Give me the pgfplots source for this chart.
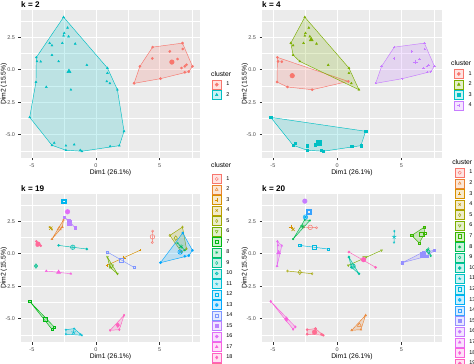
\documentclass[border=0pt]{standalone}
\usepackage{fontspec}
\setmainfont{Liberation Sans}
\usepackage{pgfplots}
\pgfplotsset{compat=1.18}
\definecolor{ggbg}{HTML}{EBEBEB}
\definecolor{gg20}{HTML}{333333}
\definecolor{gg30}{HTML}{4D4D4D}
\definecolor{ka1}{HTML}{F8766D}\definecolor{ka2}{HTML}{00BFC4}
\definecolor{kb1}{HTML}{F8766D}\definecolor{kb2}{HTML}{7CAE00}\definecolor{kb3}{HTML}{00BFC4}\definecolor{kb4}{HTML}{C77CFF}
\definecolor{kc1}{HTML}{F8766D}\definecolor{kc2}{HTML}{E9842C}\definecolor{kc3}{HTML}{D69100}\definecolor{kc4}{HTML}{BC9D00}
\definecolor{kc5}{HTML}{9CA700}\definecolor{kc6}{HTML}{6FB000}\definecolor{kc7}{HTML}{00B813}\definecolor{kc8}{HTML}{00BD61}
\definecolor{kc9}{HTML}{00C08E}\definecolor{kc10}{HTML}{00C0B4}\definecolor{kc11}{HTML}{00BDD4}\definecolor{kc12}{HTML}{00B5EE}
\definecolor{kc13}{HTML}{00A7FF}\definecolor{kc14}{HTML}{7F96FF}\definecolor{kc15}{HTML}{BC81FF}\definecolor{kc16}{HTML}{E26EF7}
\definecolor{kc17}{HTML}{F863DF}\definecolor{kc18}{HTML}{FF62BF}\definecolor{kc19}{HTML}{FF6A9A}
\definecolor{kd1}{HTML}{F8766D}\definecolor{kd2}{HTML}{EA8331}\definecolor{kd3}{HTML}{D89000}\definecolor{kd4}{HTML}{C09B00}
\definecolor{kd5}{HTML}{A3A500}\definecolor{kd6}{HTML}{7CAE00}\definecolor{kd7}{HTML}{39B600}\definecolor{kd8}{HTML}{00BB4E}
\definecolor{kd9}{HTML}{00BF7D}\definecolor{kd10}{HTML}{00C1A3}\definecolor{kd11}{HTML}{00BFC4}\definecolor{kd12}{HTML}{00BAE0}
\definecolor{kd13}{HTML}{00B0F6}\definecolor{kd14}{HTML}{35A2FF}\definecolor{kd15}{HTML}{9590FF}\definecolor{kd16}{HTML}{C77CFF}
\definecolor{kd17}{HTML}{E76BF3}\definecolor{kd18}{HTML}{FA62DB}\definecolor{kd19}{HTML}{FF62BC}\definecolor{kd20}{HTML}{FF6C91}

\pgfplotsset{
  legend image code/.code={%
    \draw[#1, mark=none, line width=0.45bp, fill, fill opacity=0.2] (0bp,-4.5bp) rectangle (9bp,4.5bp);
    \draw[#1, line width=0.45bp] plot coordinates {(4.5bp,0bp)};
  },
  gg/.style={
    scale only axis, anchor=south west,
    xmin=-5.85, xmax=8.15, ymin=-6.8, ymax=4.6,
    axis background/.style={fill=ggbg},
    axis line style={draw=none},
    xtick={-5,0,5}, ytick={-5,-2.5,0,2.5},
    minor xtick={-2.5,2.5,7.5}, minor ytick={-6.25,-3.75,-1.25,1.25,3.75},
    grid=both,
    major grid style={white, line width=0.6bp},
    minor grid style={white, line width=0.3bp},
    tick align=outside, xtick pos=left, ytick pos=left,
    major tick length=2.5bp, minor tick length=0pt,
    tick style={gg20, line width=0.5bp},
    ticklabel style={font=\fontsize{5.5}{6}\selectfont, text=gg30},
    yticklabel style={/pgf/number format/fixed, /pgf/number format/fixed zerofill, /pgf/number format/precision=1},
    /pgf/number format/assume math mode=true,
    clip=false,
    legend cell align=left,
    legend style={draw=none, fill=none, inner sep=0pt, outer sep=0pt, row sep=1.05bp, column sep=5bp,
      font=\fontsize{5.5}{6}\selectfont, anchor=west, nodes={inner sep=0pt}},
  },
}
\newcommand{\clhull}[2]{\addplot[forget plot, draw=#1, fill=#1, fill opacity=0.2, line width=0.45bp, mark=none] coordinates {#2} -- cycle;}
\newcommand{\clpts}[3]{\addplot[forget plot, only marks, color=#1, mark=#2, mark size=1.15pt, line width=0.4bp] coordinates {#3};}
\newcommand{\clcen}[3]{\addplot[forget plot, only marks, color=#1, mark=#2, mark size=2.3pt, line width=0.5bp] coordinates {#3};}
\newcommand{\leg}[3]{\addlegendimage{color=#1, mark=#2, mark size=1.6pt}\addlegendentry{#3}}
\newcommand{\decor}[3]{%
  \node[anchor=base west, inner sep=0pt, font=\fontsize{8.2}{9}\selectfont\bfseries] at (rel axis cs:0,1.02) {#1};
  \node[inner sep=0pt, font=\fontsize{6.8}{7}\selectfont] at (rel axis cs:0.5,-0.103) {Dim1 (26.1\%)};
  \node[inner sep=0pt, rotate=90, font=\fontsize{6.8}{7}\selectfont] at (rel axis cs:-0.095,0.5) {Dim2 (15.5\%)};
  \node[anchor=west, inner sep=0pt, font=\fontsize{6.8}{7}\selectfont] at (rel axis cs:#2,#3) {cluster};
}

\begin{document}
\begin{tikzpicture}
\useasboundingbox (0bp,0bp) rectangle (474bp,364bp);
\clip (0bp,0bp) rectangle (474bp,364bp);

% ---------------- k = 2
\begin{axis}[gg, at={(21bp,206bp)}, width=179bp, height=148bp,
  legend style={at={(1.067,0.461)}, row sep=0.85bp}]
\leg{ka1}{*}{1}
\leg{ka2}{triangle*}{2}
\clhull{ka2}{(-2.52,4.05) (0.91,0.13) (1.69,-1.54) (2.21,-4.74) (1.84,-5.85) (-1.09,-6.28) (-2.34,-6.2) (-3.43,-5.82) (-5.17,-3.67) (-4.68,-0.95) (-4.65,0.95)}
\clhull{ka1}{(6.78,2.05) (7.56,0.26) (7.27,-0.15) (5.06,-0.69) (2.99,-1.05) (3.45,0.26) (4.44,1.74)}
\clpts{ka2}{triangle*}{(-2.52,4.05) (-2.21,3.23) (-2.47,2.82) (-2.52,2.62) (-2.13,2.56) (-3.61,2.05) (-3.43,1.87) (-2.62,2.05) (-1.61,2.0) (-4.65,0.95) (-4.6,0.64) (-4.31,0.62) (-3.43,1.13) (-2.91,0.64) (-0.70,0.36) (0.91,0.13) (0.91,-0.26) (0.86,-0.9) (1.1,-1.05) (1.69,-1.54) (-4.68,-0.95) (-3.87,-1.33) (-1.95,-1.54) (-5.17,-3.67) (2.21,-4.74) (1.84,-5.85) (1.12,-5.9) (-1.69,-5.77) (-2.34,-5.85) (-3.25,-5.64) (-3.43,-5.82) (-1.22,-6.2) (-1.09,-6.28) (-2.34,-6.2)}
\clpts{ka1}{*}{(4.44,1.74) (5.79,1.41) (6.78,2.05) (6.8,1.6) (4.42,0.87) (6.39,0.82) (7.09,0.38) (3.45,0.26) (7.56,0.26) (6.7,0.13) (6.96,0.26) (6.96,-0.2) (7.27,-0.15) (2.99,-1.05) (5.06,-0.69)}
\clcen{ka1}{*}{(5.95,0.59)}
\clcen{ka2}{triangle*}{(-2.1,-0.13)}
\decor{k = 2}{1.061}{0.568}
\end{axis}

% ---------------- k = 4
\begin{axis}[gg, at={(262bp,206bp)}, width=180bp, height=148bp,
  legend style={at={(1.067,0.461)}, row sep=1.1bp}]
\leg{kb1}{*}{1}
\leg{kb2}{triangle*}{2}
\leg{kb3}{square*}{3}
\leg{kb4}{+}{4}
\clhull{kb1}{(-4.65,0.95) (0.86,-0.9) (-1.95,-1.54) (-3.87,-1.33) (-4.68,-0.95)}
\clhull{kb2}{(-2.52,4.05) (0.91,0.13) (1.69,-1.54) (-2.91,0.64) (-3.43,1.13) (-3.61,2.05)}
\clhull{kb3}{(-5.17,-3.67) (2.21,-4.74) (1.84,-5.85) (-1.09,-6.28) (-2.34,-6.2) (-3.43,-5.82)}
\clhull{kb4}{(6.78,2.05) (7.56,0.26) (7.27,-0.15) (5.06,-0.69) (2.99,-1.05) (3.45,0.26) (4.44,1.74)}
\clpts{kb1}{*}{(-4.65,0.95) (-4.6,0.64) (-4.31,0.62) (-4.68,-0.95) (-3.87,-1.33) (-1.95,-1.54) (0.86,-0.9)}
\clpts{kb2}{triangle*}{(-2.52,4.05) (-2.21,3.23) (-2.47,2.82) (-2.52,2.62) (-2.13,2.56) (-3.61,2.05) (-3.43,1.87) (-2.62,2.05) (-1.61,2.0) (-3.43,1.13) (-2.91,0.64) (-0.70,0.36) (0.91,0.13) (0.91,-0.26) (1.1,-1.05) (1.69,-1.54)}
\clpts{kb3}{square*}{(-5.17,-3.67) (2.21,-4.74) (1.84,-5.85) (1.12,-5.9) (-1.69,-5.77) (-2.34,-5.85) (-3.25,-5.64) (-3.43,-5.82) (-1.22,-6.2) (-1.09,-6.28) (-2.34,-6.2)}
\clpts{kb4}{+}{(4.44,1.74) (5.79,1.41) (6.78,2.05) (6.8,1.6) (4.42,0.87) (6.39,0.82) (7.09,0.38) (3.45,0.26) (7.56,0.26) (6.7,0.13) (6.96,0.26) (6.96,-0.2) (7.27,-0.15) (2.99,-1.05) (5.06,-0.69)}
\clcen{kb1}{*}{(-3.5,-0.46)}
\clcen{kb2}{triangle*}{(-2.02,2.31)}
\clcen{kb3}{square*}{(-1.42,-5.64)}
\clcen{kb4}{+}{(6.07,0.59)}
\decor{k = 4}{1.05}{0.644}
\end{axis}

% ---------------- k = 19
\begin{axis}[gg, at={(21bp,22bp)}, width=179bp, height=148bp,
  legend style={at={(1.067,0.463)}, row sep=1.05bp}]
\leg{kc1}{o}{1}
\leg{kc2}{triangle}{2}
\leg{kc3}{+}{3}
\leg{kc4}{x}{4}
\leg{kc5}{diamond}{5}
\leg{kc6}{triangle, mark options={rotate=180}}{6}
\leg{kc7}{square}{7}
\leg{kc8}{asterisk}{8}
\leg{kc9}{diamond}{9}
\leg{kc10}{oplus}{10}
\leg{kc11}{star}{11}
\leg{kc12}{square}{12}
\leg{kc13}{otimes}{13}
\leg{kc14}{square}{14}
\leg{kc15}{square*}{15}
\leg{kc16}{*}{16}
\leg{kc17}{triangle*}{17}
\leg{kc18}{diamond*}{18}
\leg{kc19}{*}{19}
\clhull{kc1}{(4.44,1.74) (4.42,0.87)}
\clpts{kc1}{o}{(4.44,1.74) (4.42,0.87)}
\clcen{kc1}{o}{(4.43,1.3)}
\clhull{kc2}{(-2.52,2.62) (-2.62,2.05) (-3.43,1.13)}
\clpts{kc2}{triangle}{(-2.52,2.62) (-2.62,2.05) (-3.43,1.13)}
\clcen{kc2}{triangle}{(-2.86,1.93)}
\clhull{kc3}{(0.86,-0.9) (3.45,0.26)}
\clpts{kc3}{+}{(0.86,-0.9) (3.45,0.26)}
\clcen{kc3}{+}{(2.15,-0.32)}
\clhull{kc4}{(-3.61,2.05) (-3.43,1.87)}
\clpts{kc4}{x}{(-3.61,2.05) (-3.43,1.87)}
\clcen{kc4}{x}{(-3.52,1.96)}
\clhull{kc5}{(5.79,1.41) (6.78,2.05) (7.09,0.38) (6.7,0.13)}
\clpts{kc5}{diamond}{(5.79,1.41) (6.78,2.05) (7.09,0.38) (6.7,0.13)}
\clcen{kc5}{diamond}{(6.25,1.2)}
\clhull{kc6}{(0.91,-0.26) (1.1,-1.05) (1.69,-1.54)}
\clpts{kc6}{triangle, mark options={rotate=180}}{(0.91,-0.26) (1.1,-1.05) (1.69,-1.54)}
\clcen{kc6}{triangle, mark options={rotate=180}}{(1.23,-0.95)}
\clhull{kc7}{(-5.17,-3.67) (-3.25,-5.64) (-3.43,-5.82)}
\clpts{kc7}{square}{(-5.17,-3.67) (-3.25,-5.64) (-3.43,-5.82)}
\clcen{kc7}{square}{(-3.95,-5.04)}
\clhull{kc8}{(6.39,0.82) (6.96,0.26)}
\clpts{kc8}{asterisk}{(6.39,0.82) (6.96,0.26)}
\clcen{kc8}{asterisk}{(6.67,0.54)}
\clpts{kc9}{diamond}{(-4.68,-0.95)}
\clcen{kc9}{diamond}{(-4.68,-0.95)}
\clhull{kc10}{(-2.91,0.64) (-0.70,0.36)}
\clpts{kc10}{oplus}{(-2.91,0.64) (-0.70,0.36)}
\clcen{kc10}{oplus}{(-1.8,0.5)}
\clhull{kc11}{(-2.34,-5.85) (-1.69,-5.77) (-1.09,-6.28) (-2.34,-6.2)}
\clpts{kc11}{star}{(-2.34,-5.85) (-1.69,-5.77) (-1.09,-6.28) (-2.34,-6.2) (-1.22,-6.2)}
\clcen{kc11}{star}{(-1.74,-6.06)}
\clpts{kc12}{square}{(-2.52,4.05)}
\clcen{kc12}{square}{(-2.52,4.05)}
\clhull{kc13}{(5.06,-0.69) (6.8,1.6) (7.56,0.26) (7.27,-0.15)}
\clpts{kc13}{otimes}{(5.06,-0.69) (6.8,1.6) (7.56,0.26) (7.27,-0.15) (6.96,-0.2)}
\clcen{kc13}{otimes}{(6.6,0.13)}
\clhull{kc14}{(0.91,0.13) (2.99,-1.05)}
\clpts{kc14}{square}{(0.91,0.13) (2.99,-1.05)}
\clcen{kc14}{square}{(2.0,-0.5)}
\clhull{kc15}{(-2.47,2.82) (-2.13,2.56) (-1.61,2.0)}
\clpts{kc15}{square*}{(-2.47,2.82) (-2.13,2.56) (-1.61,2.0)}
\clcen{kc15}{square*}{(-2.07,2.4)}
\clpts{kc16}{*}{(-2.21,3.23)}
\clcen{kc16}{*}{(-2.21,3.23)}
\clhull{kc17}{(-3.87,-1.33) (-1.95,-1.54)}
\clpts{kc17}{triangle*}{(-3.87,-1.33) (-1.95,-1.54)}
\clcen{kc17}{triangle*}{(-2.91,-1.43)}
\clhull{kc18}{(2.21,-4.74) (1.84,-5.85) (1.12,-5.9)}
\clpts{kc18}{diamond*}{(2.21,-4.74) (1.84,-5.85) (1.12,-5.9)}
\clcen{kc18}{diamond*}{(1.72,-5.5)}
\clhull{kc19}{(-4.65,0.95) (-4.6,0.64) (-4.31,0.62)}
\clpts{kc19}{*}{(-4.65,0.95) (-4.6,0.64) (-4.31,0.62)}
\clcen{kc19}{*}{(-4.52,0.74)}
\decor{k = 19}{1.061}{1.196}
\end{axis}

% ---------------- k = 20
\begin{axis}[gg, at={(262bp,22bp)}, width=180bp, height=148bp,
  legend style={at={(1.072,0.4635)}, row sep=1.15bp}]
\leg{kd1}{o}{1}
\leg{kd2}{triangle}{2}
\leg{kd3}{+}{3}
\leg{kd4}{x}{4}
\leg{kd5}{diamond}{5}
\leg{kd6}{triangle, mark options={rotate=180}}{6}
\leg{kd7}{square}{7}
\leg{kd8}{asterisk}{8}
\leg{kd9}{diamond}{9}
\leg{kd10}{oplus}{10}
\leg{kd11}{star}{11}
\leg{kd12}{square}{12}
\leg{kd13}{otimes}{13}
\leg{kd14}{square}{14}
\leg{kd15}{square*}{15}
\leg{kd16}{*}{16}
\leg{kd17}{triangle*}{17}
\leg{kd18}{diamond*}{18}
\leg{kd19}{*}{19}
\leg{kd20}{*}{20}
\clhull{kd1}{(-2.62,2.05) (-1.61,2.0)}
\clpts{kd1}{o}{(-2.62,2.05) (-1.61,2.0)}
\clcen{kd1}{o}{(-2.1,2.03)}
\clhull{kd2}{(2.21,-4.74) (1.84,-5.85) (1.12,-5.9)}
\clpts{kd2}{triangle}{(2.21,-4.74) (1.84,-5.85) (1.12,-5.9)}
\clcen{kd2}{triangle}{(1.72,-5.5)}
\clpts{kd3}{+}{(-3.61,2.05)}
\clcen{kd3}{+}{(-3.61,2.05)}
\clpts{kd4}{x}{(-3.43,1.87)}
\clcen{kd4}{x}{(-3.43,1.87)}
\clhull{kd5}{(-3.87,-1.33) (-1.95,-1.54)}
\clpts{kd5}{diamond}{(-3.87,-1.33) (-1.95,-1.54)}
\clcen{kd5}{diamond}{(-2.91,-1.43)}
\clhull{kd6}{(0.86,-0.9) (3.45,0.26)}
\clpts{kd6}{triangle, mark options={rotate=180}}{(0.86,-0.9) (3.45,0.26)}
\clcen{kd6}{triangle, mark options={rotate=180}}{(2.15,-0.32)}
\clhull{kd7}{(5.79,1.41) (6.78,2.05) (6.8,1.6) (6.39,0.82)}
\clpts{kd7}{square}{(5.79,1.41) (6.78,2.05) (6.8,1.6) (6.39,0.82)}
\clcen{kd7}{square}{(6.56,1.49)}
\clhull{kd8}{(-3.43,1.13) (-2.52,2.62) (-2.13,2.56)}
\clpts{kd8}{asterisk}{(-3.43,1.13) (-2.52,2.62) (-2.13,2.56)}
\clcen{kd8}{asterisk}{(-2.7,2.1)}
\clhull{kd9}{(7.09,0.38) (6.96,0.26) (7.27,-0.15)}
\clpts{kd9}{diamond}{(7.09,0.38) (6.96,0.26) (7.27,-0.15)}
\clcen{kd9}{diamond}{(7.1,0.16)}
\clhull{kd10}{(0.91,-0.26) (1.1,-1.05) (1.69,-1.54)}
\clpts{kd10}{oplus}{(0.91,-0.26) (1.1,-1.05) (1.69,-1.54)}
\clcen{kd10}{oplus}{(1.23,-0.95)}
\clhull{kd11}{(4.44,1.74) (4.42,0.87)}
\clpts{kd11}{star}{(4.44,1.74) (4.42,0.87)}
\clcen{kd11}{star}{(4.43,1.3)}
\clhull{kd12}{(-2.91,0.64) (-0.70,0.36)}
\clpts{kd12}{square}{(-2.91,0.64) (-0.70,0.36)}
\clcen{kd12}{square}{(-1.8,0.5)}
\clpts{kd13}{otimes}{(-2.47,2.82)}
\clcen{kd13}{otimes}{(-2.47,2.82)}
\clpts{kd14}{square}{(-2.21,3.23)}
\clcen{kd14}{square}{(-2.21,3.23)}
\clhull{kd15}{(5.06,-0.69) (6.7,0.13) (7.56,0.26) (6.96,-0.2)}
\clpts{kd15}{square*}{(5.06,-0.69) (6.7,0.13) (7.56,0.26) (6.96,-0.2)}
\clcen{kd15}{square*}{(6.64,-0.08)}
\clpts{kd16}{*}{(-2.52,4.05)}
\clcen{kd16}{*}{(-2.52,4.05)}
\clhull{kd17}{(-4.65,0.95) (-4.31,0.62) (-4.68,-0.95)}
\clpts{kd17}{triangle*}{(-4.65,0.95) (-4.6,0.64) (-4.31,0.62) (-4.68,-0.95)}
\clcen{kd17}{triangle*}{(-4.56,0.08)}
\clhull{kd18}{(-5.17,-3.67) (-3.25,-5.64) (-3.43,-5.82)}
\clpts{kd18}{diamond*}{(-5.17,-3.67) (-3.25,-5.64) (-3.43,-5.82)}
\clcen{kd18}{diamond*}{(-3.95,-5.04)}
\clhull{kd19}{(0.91,0.13) (2.99,-1.05)}
\clpts{kd19}{*}{(0.91,0.13) (2.99,-1.05)}
\clcen{kd19}{*}{(2.05,-0.46)}
\clhull{kd20}{(-2.34,-5.85) (-1.69,-5.77) (-1.09,-6.28) (-2.34,-6.2)}
\clpts{kd20}{*}{(-2.34,-5.85) (-1.69,-5.77) (-1.09,-6.28) (-2.34,-6.2) (-1.22,-6.2)}
\clcen{kd20}{*}{(-1.76,-6.04)}
\decor{k = 20}{1.056}{1.215}
\end{axis}
\end{tikzpicture}
\end{document}
